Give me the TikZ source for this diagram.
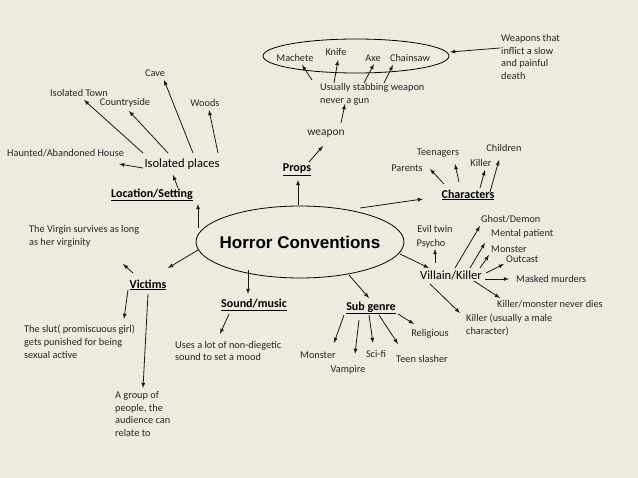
\documentclass[tikz,border=0pt]{standalone}
\usepackage{fontspec}
\setmainfont{Carlito}
\newfontfamily\hfont{Liberation Sans}
\begin{document}
\begin{tikzpicture}[x=1pt,y=-1pt,
 t/.style={inner sep=0pt,font=\fontsize{10.3}{12.8}\selectfont,text=black!85},
 tl/.style={t,align=left,anchor=west},
 hd/.style={inner sep=0pt,font=\fontsize{12}{13}\selectfont\bfseries},
 big/.style={inner sep=0pt,font=\fontsize{12.5}{14}\selectfont},
 ar/.style={-latex,line width=0.8pt,black!90}]
\fill[color={rgb,255:red,237;green,234;blue,224}] (0,0) rectangle (638,478);
\useasboundingbox (0,0) rectangle (638,478);
% ellipses
\draw[line width=0.8pt] (300,242) ellipse [x radius=104, y radius=36];
\node[inner sep=0pt,font=\hfont\fontsize{17}{19}\selectfont\bfseries] (hc) at (300,242) {Horror Conventions};
\draw[line width=0.8pt] (356,56) ellipse [x radius=93, y radius=17];
% weapon cluster
\node[t] (mach) at (295,58) {Machete};
\node[t] (knife) at (336,52) {Knife};
\node[t] (axe) at (373,58) {Axe};
\node[t] (chain) at (410,58) {Chainsaw};
\node[tl] (stab) at (320,94) {Usually stabbing weapon\\never a gun};
\node[tl] (wpt) at (501,57) {Weapons that\\inflict a slow\\and painful\\death};
\node[t,font=\fontsize{11.5}{13}\selectfont] (weapon) at (326,134) {weapon};
\node[hd] (props) at (297,170) {\underline{Props}};
\draw[ar] (312,80)--(302,65);
\draw[ar] (334,83)--(338,60);
\draw[ar] (364,83)--(374,64);
\draw[ar] (384,83)--(393,65);
\draw[ar] (500,48)--(450,52);
\draw[ar] (341,123)--(345,104);
\draw[ar] (309,162)--(323,146);
\draw[ar] (298,205)--(298,180);
% location
\node[t] (cave) at (155,73) {Cave};
\node[t] (town) at (79,93) {Isolated Town};
\node[t] (country) at (125,103) {Countryside};
\node[t] (woods) at (205,103) {Woods};
\node[tl] (haunt) at (7,153) {Haunted/Abandoned House};
\node[big] (iso) at (182,164) {Isolated places};
\node[hd] (loc) at (152,195) {\underline{Location/Setting}};
\draw[ar] (198,228)--(198,204);
\draw[ar] (178,188)--(173,175);
\draw[ar] (143,168)--(119,164);
\draw[ar] (143,153)--(84,100);
\draw[ar] (168,153)--(129,111);
\draw[ar] (193,153)--(164,80);
\draw[ar] (218,153)--(209,110);
% characters
\node[hd] (chars) at (468,195) {\underline{Characters}};
\node[t] (parents) at (407,168) {Parents};
\node[t] (teen) at (438,153) {Teenagers};
\node[t] (killer) at (481,163) {Killer};
\node[t] (child) at (504,148) {Children};
\draw[ar] (360,208)--(423,199);
\draw[ar] (444,184)--(430,169);
\draw[ar] (459,182)--(455,164);
\draw[ar] (480,188)--(485,170);
\draw[ar] (490,192)--(499,160);
% villain
\node[t] (evil) at (435,229) {Evil twin};
\node[t] (psy) at (431,244) {Psycho};
\node[big] (vill) at (451,275) {Villain/Killer};
\node[tl] (ghost) at (481,219) {Ghost/Demon};
\node[tl] (mental) at (491,234) {Mental patient};
\node[tl] (mon2) at (491,249) {Monster};
\node[tl] (out) at (506,259) {Outcast};
\node[tl] (mask) at (516,279) {Masked murders};
\node[tl] (never) at (497,304) {Killer/monster never dies};
\node[tl] (male) at (466,325) {Killer (usually a male\\character)};
\draw[ar] (400,254)--(429,268);
\draw[ar] (435,263)--(435,249);
\draw[ar] (455,268)--(480,226);
\draw[ar] (470,268)--(485,243);
\draw[ar] (480,268)--(489,255);
\draw[ar] (486,273)--(504,264);
\draw[ar] (485,279)--(509,279);
\draw[ar] (474,281)--(500,298);
\draw[ar] (430,284)--(460,313);
% sub genre
\node[hd] (sub) at (371,308) {\underline{Sub genre}};
\node[t] (monster) at (318,355) {Monster};
\node[t] (vamp) at (348,370) {Vampire};
\node[t] (scifi) at (376,354) {Sci-fi};
\node[t] (teensl) at (422,359) {Teen slasher};
\node[t] (relig) at (430,334) {Religious};
\draw[ar] (349,275)--(369,298);
\draw[ar] (344,315)--(334,343);
\draw[ar] (359,320)--(355,354);
\draw[ar] (369,315)--(373,343);
\draw[ar] (379,315)--(398,344);
\draw[ar] (398,314)--(414,324);
% sound
\node[hd] (sound) at (254,305) {\underline{Sound/music}};
\node[tl] (uses) at (175,351) {Uses a lot of non-diegetic\\sound to set a mood};
\draw[ar] (248,270)--(248,294);
\draw[ar] (229,314)--(220,334);
% victims
\node[hd] (vict) at (148,285) {\underline{Victims}};
\node[tl] (virgin) at (29,236) {The Virgin survives as long\\as her virginity};
\node[tl] (slut) at (24,342) {The slut( promiscuous girl)\\gets punished for being\\sexual active};
\node[tl] (group) at (115,414) {A group of\\people, the\\audience can\\relate to};
\draw[ar] (198,250)--(168,268);
\draw[ar] (133,273)--(123,264);
\draw[ar] (128,290)--(124,319);
\draw[ar] (148,294)--(143,388);
\end{tikzpicture}
\end{document}
